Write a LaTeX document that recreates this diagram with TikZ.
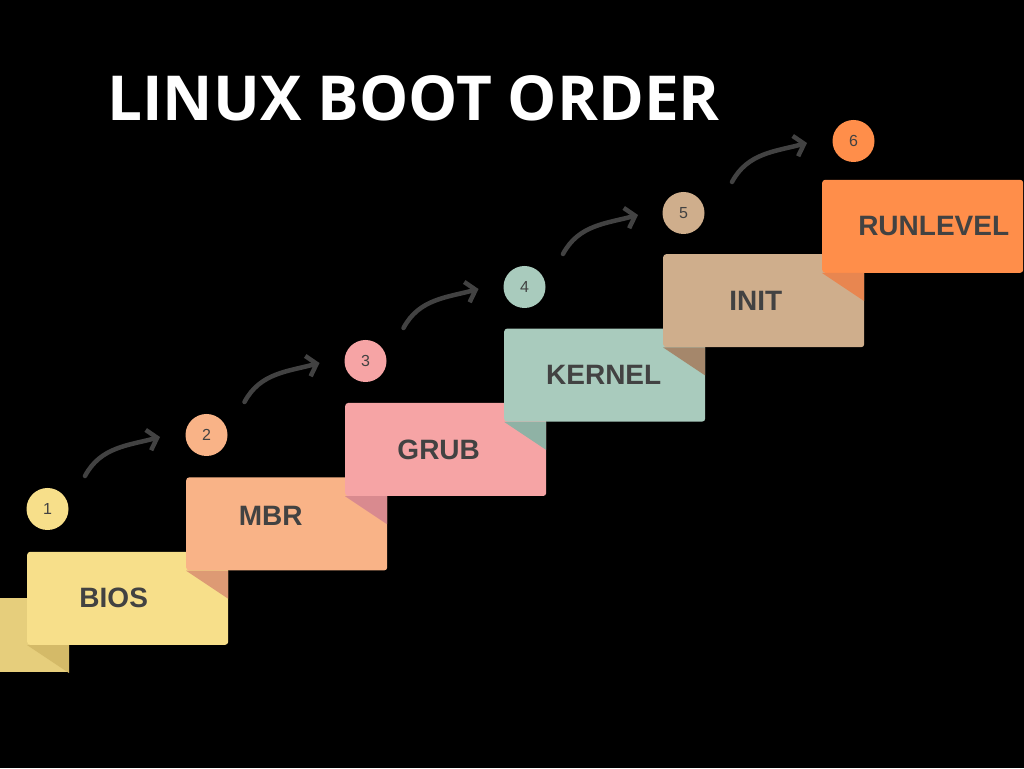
\documentclass[tikz,border=0pt]{standalone}
\usepackage{fontspec}
\setmainfont{Liberation Sans}
\newfontfamily\titlefont{Open Sans}
\usetikzlibrary{positioning,arrows.meta}

\definecolor{ink}{HTML}{424242}
\definecolor{bios}{HTML}{F7DF8A}
\definecolor{biosdark}{HTML}{D4BA68}
\definecolor{biospale}{HTML}{E6CE7C}
\definecolor{mbr}{HTML}{F9B387}
\definecolor{mbrdark}{HTML}{DD9A74}
\definecolor{grub}{HTML}{F6A4A5}
\definecolor{grubdark}{HTML}{D98A8F}
\definecolor{kernel}{HTML}{A9CBBD}
\definecolor{kerneldark}{HTML}{8FB2A5}
\definecolor{init}{HTML}{CFAE8C}
\definecolor{initdark}{HTML}{A5876B}
\definecolor{runlevel}{HTML}{FF8E4A}
\definecolor{runleveldark}{HTML}{E88650}

\begin{document}
\begin{tikzpicture}[x=1pt, y=1pt, >={Straight Barb[length=9pt,width=21pt]},
  step box/.style={anchor=south west, minimum width=201pt, minimum height=93pt,
    inner sep=0pt, rounded corners=3pt},
  step text/.style={text=ink, font=\bfseries\fontsize{28}{28}\selectfont},
  step number/.style={circle, minimum size=42pt, inner sep=0pt, text=ink,
    font=\fontsize{16}{16}\selectfont},
  step arrow/.style={->, ink, line width=4.5pt, line cap=round}]

\fill [black] (0,0) rectangle (1024,768);

\node [anchor=base west, inner sep=0pt, text=white,
  font=\titlefont\bfseries\fontsize{62}{62}\selectfont] (title) at (107,647) {LINUX BOOT ORDER};

% piece of the step before the first one
\fill [biospale] (0,96) rectangle (68,170);

\foreach \l/\c/\dx/\dy [count=\i] in {BIOS/bios/-14/0, MBR/mbr/-16/8, GRUB/grub/-7/0,
    KERNEL/kernel/-1/0, INIT/init/-8/0, RUNLEVEL/runlevel/11/0} {
  \node [step box, fill=\c] (box-\i) at ({27+159*(\i-1)},{123+74.4*(\i-1)}) {};
  \fill [\c dark] (box-\i.south west) -- ++(42,0) -- ++(0,-28) -- cycle;
  \node [step text] (label-\i) at ([xshift=\dx pt, yshift=\dy pt]box-\i.center) {\l};
}

\foreach \x/\y/\c [count=\i] in {47.5/259/bios, 206.5/333/mbr, 365.5/407/grub,
    524.5/481/kernel, 683.5/555/init, 853.5/627/runlevel}
  \node [step number, fill=\c] (num-\i) at (\x,\y) {\i};

\foreach \x/\y [count=\i] in {85/292, 244.5/366, 403.5/440, 563/514, 732/586} {
  \coordinate (arrow-start-\i) at (\x,\y);
  \coordinate (arrow-end-\i) at (\x+75,\y+39);
  \draw [step arrow] (arrow-start-\i) to [out=62, in=195] (arrow-end-\i);
}

\end{tikzpicture}
\end{document}
